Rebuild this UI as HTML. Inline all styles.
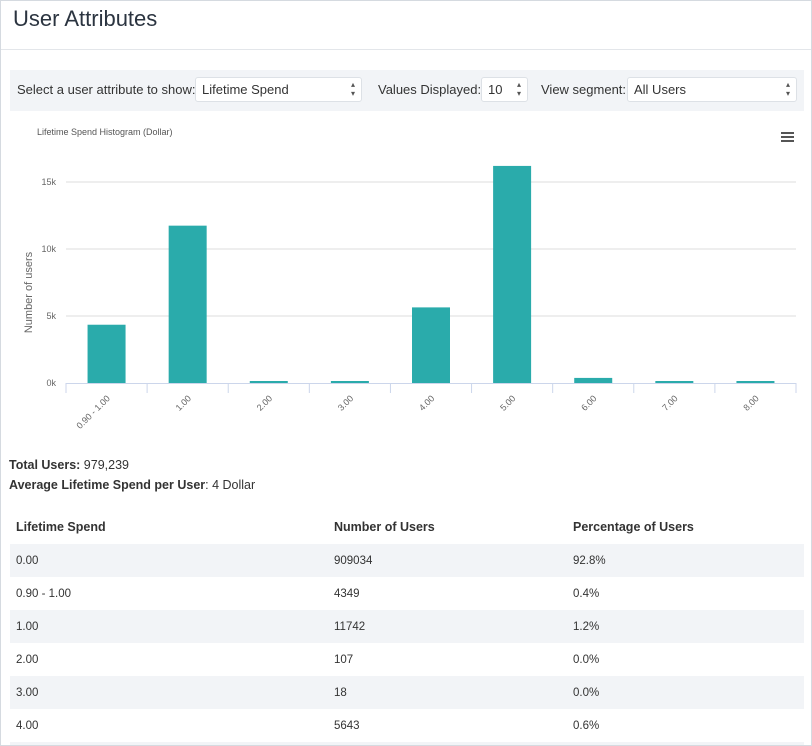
<!DOCTYPE html>
<html style="height:746px;overflow:hidden"><head><meta charset="utf-8"><style>
body{margin:0;width:812px;height:746px;overflow:hidden;position:relative;font-family:"Liberation Sans",sans-serif;color:#333;background:#fff}
#frame{position:absolute;left:0;top:0;width:810px;height:744px;border:1px solid #d5dae0;}
h1{position:absolute;left:13px;top:6px;margin:0;font-weight:normal;font-size:22px;color:#2b3440}
#hr{position:absolute;left:1px;top:49px;width:810px;height:1px;background:#e3e6ea}
#filters{position:absolute;left:10px;top:70px;width:794px;height:41px;background:#f2f4f7;font-size:13px}
.lbl{position:absolute;top:12px}
.sel{position:absolute;top:7px;height:25px;background:#fff;border:1px solid #dde1e6;border-radius:3px;box-sizing:border-box;padding:4px 6px;font-size:13px}
.sel:after{content:"▴\A▾";white-space:pre;position:absolute;right:6px;top:2px;font-size:8px;line-height:9px;color:#555}
#chart{position:absolute;left:0;top:120px}
.info{position:absolute;left:9px;font-size:12.5px}
#tablewrap{position:absolute;left:10px;top:510px;width:794px;height:235px;overflow:hidden}
table{width:794px;border-collapse:collapse;font-size:11.5px}
td,th{height:33px;padding:0 0 0 6px;text-align:left}
th{font-size:12.5px;height:34px}
tr:nth-child(even) td{background:#f2f4f7}
</style></head><body>
<div id="frame"></div>
<h1>User Attributes</h1>
<div id="hr"></div>
<div id="filters">
<span class="lbl" style="left:7px">Select a user attribute to show:</span>
<div class="sel" style="left:185px;width:167px">Lifetime Spend</div>
<span class="lbl" style="left:368px">Values Displayed:</span>
<div class="sel" style="left:471px;width:47px">10</div>
<span class="lbl" style="left:531px">View segment:</span>
<div class="sel" style="left:617px;width:170px">All Users</div>
</div>
<svg id="chart" width="812" height="330"></svg>
<div class="info" style="top:458px"><b>Total Users:</b> 979,239</div>
<div class="info" style="top:478px"><b>Average Lifetime Spend per User</b>: 4 Dollar</div>
<div id="tablewrap">
<table>
<tr><th>Lifetime Spend</th><th style="padding-left:0">Number of Users</th><th style="padding-left:0">Percentage of Users</th></tr>
<tr><td style="width:318px">0.00</td><td style="width:239px;padding:0">909034</td><td style="padding:0">92.8%</td></tr>
<tr><td>0.90 - 1.00</td><td style="padding:0">4349</td><td style="padding:0">0.4%</td></tr>
<tr><td>1.00</td><td style="padding:0">11742</td><td style="padding:0">1.2%</td></tr>
<tr><td>2.00</td><td style="padding:0">107</td><td style="padding:0">0.0%</td></tr>
<tr><td>3.00</td><td style="padding:0">18</td><td style="padding:0">0.0%</td></tr>
<tr><td>4.00</td><td style="padding:0">5643</td><td style="padding:0">0.6%</td></tr>
<tr><td></td><td></td><td></td></tr>
</table>
</div>
<script>
const categories=["0.90 - 1.00","1.00","2.00","3.00","4.00","5.00","6.00","7.00","8.00"];
const values=[4349,11742,107,18,5643,16200,380,110,100];
const yTicks=[0,5000,10000,15000];
const yTickLabels=["0k","5k","10k","15k"];
const svg=document.getElementById('chart');
const NS="http://www.w3.org/2000/svg";
const OY=120,x0=66,x1=796,y0=383-OY,yTop=182-OY;
const yScale=v=>y0-(v/15000)*(y0-yTop);
const bw=(x1-x0)/categories.length;
function mk(t,a,txt){const e=document.createElementNS(NS,t);for(const k in a)e.setAttribute(k,a[k]);if(txt!=null)e.textContent=txt;svg.appendChild(e);return e;}
let e=mk('text',{x:37,y:15,'font-size':9,fill:'#555','font-family':'Liberation Sans'},'Lifetime Spend Histogram (Dollar)');

e=mk('text',{x:0,y:0,'font-size':11,fill:'#666','text-anchor':'middle',transform:`translate(32,${(y0+yTop)/2+10}) rotate(-90)`},'Number of users');

for(let i=0;i<3;i++){e=mk('rect',{x:781,y:12+i*4,width:13,height:2,fill:'#555'});}
yTicks.forEach((t,i)=>{const y=yScale(t);
 if(i>0){e=mk('line',{x1:x0,x2:x1,y1:y,y2:y,stroke:'#dcdcdc'});}
 e=mk('text',{x:56,y:y+3,'font-size':9,fill:'#666','text-anchor':'end'},yTickLabels[i]);});
categories.forEach((c,i)=>{const cx=x0+bw*(i+0.5);const top=Math.min(yScale(values[i]),y0-2);
 e=mk('rect',{x:cx-19,y:top,width:38,height:y0-top,fill:'#2aabab'});
 e=mk('line',{x1:x0+bw*i,x2:x0+bw*i,y1:y0,y2:y0+10,stroke:'#ccd6eb'});
 e=mk('text',{x:0,y:0,'font-size':9,fill:'#666','text-anchor':'end',transform:`translate(${cx+4},${y0+16}) rotate(-45)`},c);});
e=mk('line',{x1:x1,x2:x1,y1:y0,y2:y0+10,stroke:'#ccd6eb'});
e=mk('line',{x1:x0,x2:x1,y1:y0+0.5,y2:y0+0.5,stroke:'#ccd6eb'});
</script>
</body></html>
